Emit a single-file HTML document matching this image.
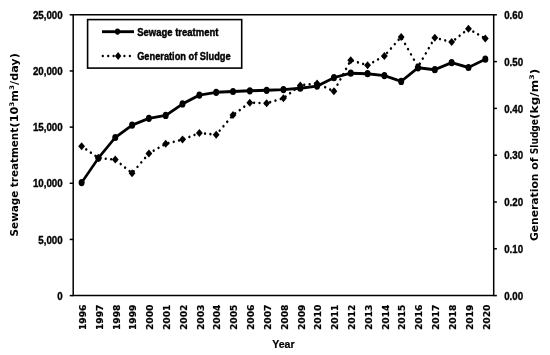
<!DOCTYPE html>
<html><head><meta charset="utf-8"><title>Sewage treatment and sludge generation</title>
<style>
html,body{margin:0;padding:0;background:#fff;}
body{width:550px;height:355px;overflow:hidden;}
svg{display:block;filter:blur(0.35px);}
text{fill:#000;}
.tl{font:bold 11px "Liberation Sans",Arial,sans-serif;stroke:#000;stroke-width:0.35px;}
.yr{font:bold 8.6px "DejaVu Sans","Liberation Sans",sans-serif;stroke:#000;stroke-width:0.2px;}
.lg{font:bold 10.3px "Liberation Sans",Arial,sans-serif;stroke:#000;stroke-width:0.4px;}
.ti{font:bold 9.8px "DejaVu Sans","Liberation Sans",sans-serif;}
.sup{font-size:6.3px;}
.yt{font:bold 11.5px "Liberation Sans",Arial,sans-serif;stroke:#000;stroke-width:0.2px;}
</style></head>
<body>
<svg width="550" height="355" viewBox="0 0 550 355">
<rect width="550" height="355" fill="#fff"/>
<path d="M73.20 295.60V14.80H493.70V295.60Z" fill="none" stroke="#000" stroke-width="1.5"/>
<path d="M69.70 295.60H73.20" stroke="#000" stroke-width="1.5"/>
<path d="M69.70 239.44H73.20" stroke="#000" stroke-width="1.5"/>
<path d="M69.70 183.28H73.20" stroke="#000" stroke-width="1.5"/>
<path d="M69.70 127.12H73.20" stroke="#000" stroke-width="1.5"/>
<path d="M69.70 70.96H73.20" stroke="#000" stroke-width="1.5"/>
<path d="M69.70 14.80H73.20" stroke="#000" stroke-width="1.5"/>
<path d="M493.70 295.60H496.90" stroke="#000" stroke-width="1.5"/>
<path d="M493.70 248.80H496.90" stroke="#000" stroke-width="1.5"/>
<path d="M493.70 202.00H496.90" stroke="#000" stroke-width="1.5"/>
<path d="M493.70 155.20H496.90" stroke="#000" stroke-width="1.5"/>
<path d="M493.70 108.40H496.90" stroke="#000" stroke-width="1.5"/>
<path d="M493.70 61.60H496.90" stroke="#000" stroke-width="1.5"/>
<path d="M493.70 14.80H496.90" stroke="#000" stroke-width="1.5"/>
<text class="tl" text-anchor="end" transform="translate(62.7,299.70) scale(0.887,1)">0</text>
<text class="tl" text-anchor="end" transform="translate(62.7,243.54) scale(0.887,1)">5,000</text>
<text class="tl" text-anchor="end" transform="translate(62.7,187.38) scale(0.887,1)">10,000</text>
<text class="tl" text-anchor="end" transform="translate(62.7,131.22) scale(0.887,1)">15,000</text>
<text class="tl" text-anchor="end" transform="translate(62.7,75.06) scale(0.887,1)">20,000</text>
<text class="tl" text-anchor="end" transform="translate(62.7,18.90) scale(0.887,1)">25,000</text>
<text class="tl" transform="translate(504.2,299.70) scale(0.887,1)">0.00</text>
<text class="tl" transform="translate(504.2,252.90) scale(0.887,1)">0.10</text>
<text class="tl" transform="translate(504.2,206.10) scale(0.887,1)">0.20</text>
<text class="tl" transform="translate(504.2,159.30) scale(0.887,1)">0.30</text>
<text class="tl" transform="translate(504.2,112.50) scale(0.887,1)">0.40</text>
<text class="tl" transform="translate(504.2,65.70) scale(0.887,1)">0.50</text>
<text class="tl" transform="translate(504.2,18.90) scale(0.887,1)">0.60</text>
<text class="yr" transform="translate(85.91,330.1) rotate(-90)" textLength="25.5" lengthAdjust="spacingAndGlyphs">1996</text>
<text class="yr" transform="translate(102.73,330.1) rotate(-90)" textLength="25.5" lengthAdjust="spacingAndGlyphs">1997</text>
<text class="yr" transform="translate(119.55,330.1) rotate(-90)" textLength="25.5" lengthAdjust="spacingAndGlyphs">1998</text>
<text class="yr" transform="translate(136.37,330.1) rotate(-90)" textLength="25.5" lengthAdjust="spacingAndGlyphs">1999</text>
<text class="yr" transform="translate(153.19,330.1) rotate(-90)" textLength="25.5" lengthAdjust="spacingAndGlyphs">2000</text>
<text class="yr" transform="translate(170.01,330.1) rotate(-90)" textLength="25.5" lengthAdjust="spacingAndGlyphs">2001</text>
<text class="yr" transform="translate(186.83,330.1) rotate(-90)" textLength="25.5" lengthAdjust="spacingAndGlyphs">2002</text>
<text class="yr" transform="translate(203.65,330.1) rotate(-90)" textLength="25.5" lengthAdjust="spacingAndGlyphs">2003</text>
<text class="yr" transform="translate(220.47,330.1) rotate(-90)" textLength="25.5" lengthAdjust="spacingAndGlyphs">2004</text>
<text class="yr" transform="translate(237.29,330.1) rotate(-90)" textLength="25.5" lengthAdjust="spacingAndGlyphs">2005</text>
<text class="yr" transform="translate(254.11,330.1) rotate(-90)" textLength="25.5" lengthAdjust="spacingAndGlyphs">2006</text>
<text class="yr" transform="translate(270.93,330.1) rotate(-90)" textLength="25.5" lengthAdjust="spacingAndGlyphs">2007</text>
<text class="yr" transform="translate(287.75,330.1) rotate(-90)" textLength="25.5" lengthAdjust="spacingAndGlyphs">2008</text>
<text class="yr" transform="translate(304.57,330.1) rotate(-90)" textLength="25.5" lengthAdjust="spacingAndGlyphs">2009</text>
<text class="yr" transform="translate(321.39,330.1) rotate(-90)" textLength="25.5" lengthAdjust="spacingAndGlyphs">2010</text>
<text class="yr" transform="translate(338.21,330.1) rotate(-90)" textLength="25.5" lengthAdjust="spacingAndGlyphs">2011</text>
<text class="yr" transform="translate(355.03,330.1) rotate(-90)" textLength="25.5" lengthAdjust="spacingAndGlyphs">2012</text>
<text class="yr" transform="translate(371.85,330.1) rotate(-90)" textLength="25.5" lengthAdjust="spacingAndGlyphs">2013</text>
<text class="yr" transform="translate(388.67,330.1) rotate(-90)" textLength="25.5" lengthAdjust="spacingAndGlyphs">2014</text>
<text class="yr" transform="translate(405.49,330.1) rotate(-90)" textLength="25.5" lengthAdjust="spacingAndGlyphs">2015</text>
<text class="yr" transform="translate(422.31,330.1) rotate(-90)" textLength="25.5" lengthAdjust="spacingAndGlyphs">2016</text>
<text class="yr" transform="translate(439.13,330.1) rotate(-90)" textLength="25.5" lengthAdjust="spacingAndGlyphs">2017</text>
<text class="yr" transform="translate(455.95,330.1) rotate(-90)" textLength="25.5" lengthAdjust="spacingAndGlyphs">2018</text>
<text class="yr" transform="translate(472.77,330.1) rotate(-90)" textLength="25.5" lengthAdjust="spacingAndGlyphs">2019</text>
<text class="yr" transform="translate(489.59,330.1) rotate(-90)" textLength="25.5" lengthAdjust="spacingAndGlyphs">2020</text>
<g transform="scale(1,1.15)"><polyline points="81.61,158.783 98.43,137.478 115.25,119.565 132.07,108.870 148.89,102.870 165.71,100.348 182.53,90.348 199.35,82.696 216.17,80.261 232.99,79.565 249.81,78.957 266.63,78.522 283.45,77.913 300.27,76.696 317.09,74.870 333.91,67.565 350.73,63.652 367.55,64.087 384.37,65.739 401.19,70.783 418.01,58.957 434.83,60.609 451.65,54.522 468.47,58.696 485.29,51.478" fill="none" stroke="#000" stroke-width="2.5" stroke-linejoin="round"/></g>
<g transform="scale(1,1.15)"><polyline points="81.61,127.130 98.43,137.478 115.25,138.783 132.07,150.609 148.89,133.478 165.71,125.043 182.53,121.391 199.35,115.652 216.17,117.217 232.99,100.000 249.81,89.304 266.63,89.739 283.45,85.391 300.27,74.261 317.09,72.522 333.91,79.391 350.73,52.348 367.55,56.783 384.37,48.609 401.19,32.087 418.01,58.174 434.83,32.783 451.65,36.609 468.47,24.957 485.29,33.565" fill="none" stroke="#000" stroke-width="2.3" stroke-dasharray="0.01 5.4" stroke-linecap="round"/></g>
<ellipse cx="81.61" cy="182.60" rx="3.0" ry="3.6"/>
<ellipse cx="98.43" cy="158.10" rx="3.0" ry="3.6"/>
<ellipse cx="115.25" cy="137.50" rx="3.0" ry="3.6"/>
<ellipse cx="132.07" cy="125.20" rx="3.0" ry="3.6"/>
<ellipse cx="148.89" cy="118.30" rx="3.0" ry="3.6"/>
<ellipse cx="165.71" cy="115.40" rx="3.0" ry="3.6"/>
<ellipse cx="182.53" cy="103.90" rx="3.0" ry="3.6"/>
<ellipse cx="199.35" cy="95.10" rx="3.0" ry="3.6"/>
<ellipse cx="216.17" cy="92.30" rx="3.0" ry="3.6"/>
<ellipse cx="232.99" cy="91.50" rx="3.0" ry="3.6"/>
<ellipse cx="249.81" cy="90.80" rx="3.0" ry="3.6"/>
<ellipse cx="266.63" cy="90.30" rx="3.0" ry="3.6"/>
<ellipse cx="283.45" cy="89.60" rx="3.0" ry="3.6"/>
<ellipse cx="300.27" cy="88.20" rx="3.0" ry="3.6"/>
<ellipse cx="317.09" cy="86.10" rx="3.0" ry="3.6"/>
<ellipse cx="333.91" cy="77.70" rx="3.0" ry="3.6"/>
<ellipse cx="350.73" cy="73.20" rx="3.0" ry="3.6"/>
<ellipse cx="367.55" cy="73.70" rx="3.0" ry="3.6"/>
<ellipse cx="384.37" cy="75.60" rx="3.0" ry="3.6"/>
<ellipse cx="401.19" cy="81.40" rx="3.0" ry="3.6"/>
<ellipse cx="418.01" cy="67.80" rx="3.0" ry="3.6"/>
<ellipse cx="434.83" cy="69.70" rx="3.0" ry="3.6"/>
<ellipse cx="451.65" cy="62.70" rx="3.0" ry="3.6"/>
<ellipse cx="468.47" cy="67.50" rx="3.0" ry="3.6"/>
<ellipse cx="485.29" cy="59.20" rx="3.0" ry="3.6"/>
<path d="M81.61 142.20L85.01 146.20L81.61 150.20L78.21 146.20Z"/>
<path d="M98.43 154.10L101.83 158.10L98.43 162.10L95.03 158.10Z"/>
<path d="M115.25 155.60L118.65 159.60L115.25 163.60L111.85 159.60Z"/>
<path d="M132.07 169.20L135.47 173.20L132.07 177.20L128.67 173.20Z"/>
<path d="M148.89 149.50L152.29 153.50L148.89 157.50L145.49 153.50Z"/>
<path d="M165.71 139.80L169.11 143.80L165.71 147.80L162.31 143.80Z"/>
<path d="M182.53 135.60L185.93 139.60L182.53 143.60L179.13 139.60Z"/>
<path d="M199.35 129.00L202.75 133.00L199.35 137.00L195.95 133.00Z"/>
<path d="M216.17 130.80L219.57 134.80L216.17 138.80L212.77 134.80Z"/>
<path d="M232.99 111.00L236.39 115.00L232.99 119.00L229.59 115.00Z"/>
<path d="M249.81 98.70L253.21 102.70L249.81 106.70L246.41 102.70Z"/>
<path d="M266.63 99.20L270.03 103.20L266.63 107.20L263.23 103.20Z"/>
<path d="M283.45 94.20L286.85 98.20L283.45 102.20L280.05 98.20Z"/>
<path d="M300.27 81.40L303.67 85.40L300.27 89.40L296.87 85.40Z"/>
<path d="M317.09 79.40L320.49 83.40L317.09 87.40L313.69 83.40Z"/>
<path d="M333.91 87.30L337.31 91.30L333.91 95.30L330.51 91.30Z"/>
<path d="M350.73 56.20L354.13 60.20L350.73 64.20L347.33 60.20Z"/>
<path d="M367.55 61.30L370.95 65.30L367.55 69.30L364.15 65.30Z"/>
<path d="M384.37 51.90L387.77 55.90L384.37 59.90L380.97 55.90Z"/>
<path d="M401.19 32.90L404.59 36.90L401.19 40.90L397.79 36.90Z"/>
<path d="M418.01 62.90L421.41 66.90L418.01 70.90L414.61 66.90Z"/>
<path d="M434.83 33.70L438.23 37.70L434.83 41.70L431.43 37.70Z"/>
<path d="M451.65 38.10L455.05 42.10L451.65 46.10L448.25 42.10Z"/>
<path d="M468.47 24.70L471.87 28.70L468.47 32.70L465.07 28.70Z"/>
<path d="M485.29 34.60L488.69 38.60L485.29 42.60L481.89 38.60Z"/>
<rect x="87.6" y="19.6" width="154.1" height="48.5" fill="#fff" stroke="#000" stroke-width="1.6"/>
<g transform="scale(1,1.15)"><path d="M102 27.565H134" stroke="#000" stroke-width="2.5"/></g>
<ellipse cx="117.5" cy="31.6" rx="2.6" ry="3.1"/>
<g transform="scale(1,1.15)"><path d="M102.8 48.696H131" stroke="#000" stroke-width="2.3" stroke-dasharray="0.01 5.4" stroke-linecap="round"/></g>
<path d="M118.1 52.10L121.30 56L118.1 59.90L114.90 56Z"/>
<text x="137.2" y="35.6" class="lg" textLength="81.2" lengthAdjust="spacingAndGlyphs">Sewage treatment</text>
<text x="137.2" y="59.6" class="lg" textLength="93.4" lengthAdjust="spacingAndGlyphs">Generation of Sludge</text>
<text class="ti" transform="translate(18.00,236.40) rotate(-90)" textLength="108.60" lengthAdjust="spacingAndGlyphs">Sewage treatment</text>
<text class="ti" transform="translate(18.00,127.40) rotate(-90)" textLength="74.20" lengthAdjust="spacingAndGlyphs">(10<tspan class="sup" dy="-3.6">3</tspan><tspan dy="3.6">m</tspan><tspan class="sup" dy="-3.6">3</tspan><tspan dy="3.6">/day)</tspan></text>
<text class="ti" transform="translate(537.60,241.10) rotate(-90)" textLength="83.50" lengthAdjust="spacingAndGlyphs">Generation of</text>
<text class="ti" transform="translate(537.60,154.20) rotate(-90)" textLength="35.20" lengthAdjust="spacingAndGlyphs">Sludge</text>
<text class="ti" transform="translate(537.60,118.90) rotate(-90)" textLength="50.10" lengthAdjust="spacingAndGlyphs">(kg/m<tspan class="sup" dy="-3.6">3</tspan><tspan dy="3.6">)</tspan></text>
<text x="272.2" y="347.6" class="yt" textLength="22.4" lengthAdjust="spacingAndGlyphs">Year</text>
</svg>
</body></html>
